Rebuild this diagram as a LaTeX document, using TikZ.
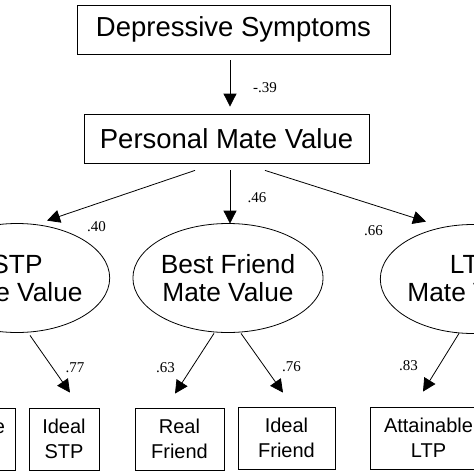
\documentclass[tikz,border=0pt]{standalone}
\usepackage{fontspec}
\setmainfont{Liberation Serif}
\setsansfont{Liberation Sans}
\usetikzlibrary{positioning}
\usetikzlibrary{arrows.meta}
\usetikzlibrary{shapes.geometric}

\tikzset{
    topbox/.style={draw, line width=0.8pt, inner sep=0pt, minimum height=49pt,
        font=\sffamily\fontsize{27.5}{30}\selectfont},
    latent/.style={draw, ellipse, line width=0.8pt, inner sep=0pt,
        minimum width=182pt, minimum height=109pt, align=center,
        font=\sffamily\fontsize{26.3}{28}\selectfont},
    itembox/.style={draw, line width=0.8pt, inner sep=0pt, minimum height=62pt,
        align=center, font=\sffamily\fontsize{20}{25}\selectfont},
    arr/.style={line width=0.8pt, -{Triangle[length=13pt,width=13pt]}},
    coef/.style={inner sep=0pt, font=\fontsize{15}{18}\selectfont}
}

\begin{document}
\begin{tikzpicture}[x=1pt, y=-1pt]
    \useasboundingbox (0, 0) rectangle (474, 474);
    \clip (0, 0) rectangle (474, 474);
    \fill[white] (0, 0) rectangle (474, 474);

    \node[topbox, minimum width=313pt] (ds) at (233.5, 29.5) {Depressive Symptoms};
    \node[topbox, minimum width=285pt] (pmv) at (226.5, 138.5) {Personal Mate Value};

    \node[latent] (stp) at (17, 278) {STP\\Mate Value};
    \node[latent] (bf) at (228, 278) {Best Friend\\Mate Value};
    \node[latent] (ltp) at (473, 279) {LTP\\Mate Value};

    \node[itembox, minimum width=109pt] (astp) at (-39.5, 439) {Attainable\\STP};
    \node[itembox, minimum width=70pt] (istp) at (64, 439) {Ideal\\STP};
    \node[itembox, minimum width=89pt] (rf) at (179.5, 439) {Real\\Friend};
    \node[itembox, minimum width=97pt] (if) at (286.5, 438) {Ideal\\Friend};
    \node[itembox, minimum width=117pt] (altp) at (428.5, 438) {Attainable\\LTP};

    \draw[arr] ([shift={(-3.5,6)}]ds.south) -- ([shift={(3.5,-7)}]pmv.north);
    \draw[arr] ([shift={(-31.5,7)}]pmv.south) -- ([shift={(30,-2.5)}]stp.north);
    \draw[arr] ([shift={(3.5,7)}]pmv.south) -- ([shift={(2,0.5)}]bf.north);
    \draw[arr] ([shift={(38.5,7)}]pmv.south) -- ([shift={(-47,-2.5)}]ltp.north);

    \draw[arr] ([shift={(13,2.5)}]stp.south) -- ([shift={(6,-15)}]istp.north);
    \draw[arr] ([shift={(-14,0.5)}]bf.south) -- ([shift={(-4.5,-14)}]rf.north);
    \draw[arr] ([shift={(13,0.5)}]bf.south) -- ([shift={(-3.5,-14)}]if.north);
    \draw[arr] ([shift={(-14,-0.5)}]ltp.south) -- ([shift={(-5.5,-15)}]altp.north);

    % path coefficients
    \node[coef] (c39) at (265, 88) {-.39};
    \node[coef] (c40) at (96.5, 227) {.40};
    \node[coef] (c46) at (257, 198) {.46};
    \node[coef] (c66) at (373.5, 231) {.66};
    \node[coef] (c77) at (75, 368) {.77};
    \node[coef] (c63) at (165.5, 368) {.63};
    \node[coef] (c76) at (291.5, 367) {.76};
    \node[coef] (c83) at (408.5, 366) {.83};
\end{tikzpicture}
\end{document}
